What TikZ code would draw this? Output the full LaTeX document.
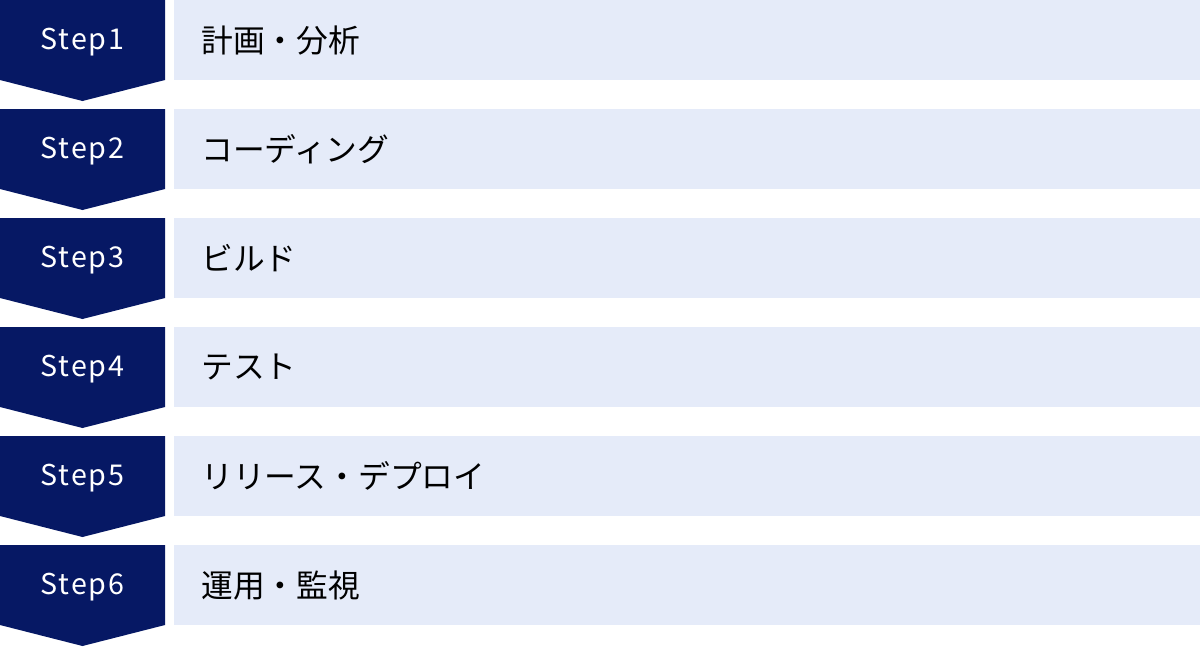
\documentclass[tikz,border=0pt]{standalone}
\usepackage{fontspec}
\setmainfont{Noto Sans CJK JP}
\newfontfamily\stepfont[LetterSpace=7]{Noto Sans CJK JP}
\definecolor{navy}{RGB}{6,24,100}
\definecolor{pale}{RGB}{229,235,249}
\begin{document}
\begin{tikzpicture}[x=0.75pt,y=-0.75pt,
  stepshape/.style={fill=navy},
  steplabel/.style={text=white,font=\stepfont\fontsize{21.5pt}{24pt}\selectfont,inner sep=0pt},
  taskbox/.style={fill=pale,anchor=north west,minimum width=1026*0.75pt,minimum height=80*0.75pt,
    text width=1026*0.75pt-2*27*0.75pt,inner xsep=27*0.75pt,inner ysep=0pt,align=left,
    font=\fontsize{23.8pt}{26pt}\selectfont}]
\useasboundingbox (0,0) rectangle (1200,647);
\foreach \i/\txt in {1/計画・分析,2/コーディング,3/ビルド,4/テスト,5/リリース・デプロイ,6/運用・監視}{
  \pgfmathsetmacro{\t}{109*(\i-1)}
  \fill[stepshape] (0,\t) -- (165,\t) -- (165,\t+80) -- (82.5,\t+101) -- (0,\t+80) -- cycle;
  \node[steplabel] (s\i) at (82.5,\t+42) {Step\i};
  \node[taskbox] (b\i) at (174,\t) {\txt};
}
\end{tikzpicture}
\end{document}
